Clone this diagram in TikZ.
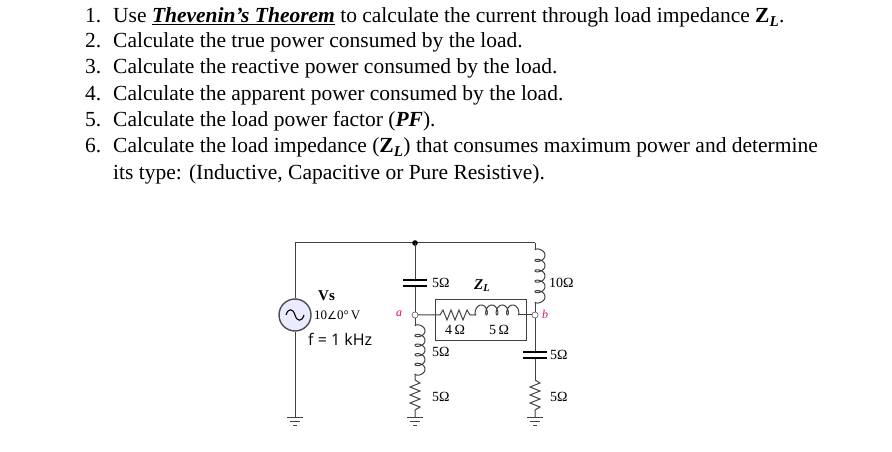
\documentclass[tikz,border=0pt]{standalone}
\usepackage{fontspec}
\setmainfont{Liberation Serif}
\newfontfamily\fsans{Open Sans}
\newfontfamily\fdv{DejaVu Sans}
\newcommand{\vind}[4]{% x, y1, y2, loops
 \draw[wire] plot[domain=0:#4,samples=150,smooth] ({#1+5*(1-cos(\x*360))},{#2+(#3-#2)*\x/#4-3.2*sin(\x*360)});}
\newcommand{\hind}[4]{% y, x1, x2, loops
 \draw[wire] plot[domain=0:#4,samples=150,smooth] ({#2+(#3-#2)*\x/#4-3*sin(\x*360)},{#1-5*(1-cos(\x*360))});}
\newcommand{\gnd}[2]{\draw[wire] (#1-8,#2)--(#1+8,#2) (#1-5,#2+4)--(#1+5,#2+4) (#1-2,#2+8)--(#1+2,#2+8);}
\begin{document}
\begin{tikzpicture}[x=1bp,y=-1bp,
 wire/.style={draw=black!75,line width=1bp},
 txt/.style={anchor=base west,inner sep=0,font=\fontsize{21.5bp}{24bp}\selectfont},
 lab/.style={anchor=west,inner sep=0,font=\fontsize{14bp}{14bp}\selectfont},
 pin/.style={circle,draw=black!75,fill=white,inner sep=0,minimum size=6bp}]
\useasboundingbox (0,0) rectangle (892,452);
% text
\foreach \n/\y in {1/23,2/48,3/74,4/101,5/127,6/153}{\node[txt] (n\n) at (85,\y) {\n.};}
\node[txt] (t1) at (113,23) {Use \textbf{\textit{\underline{Thevenin’s Theorem}}} to calculate the current through load impedance \textbf{Z\textsubscript{\textit{L}}}.};
\node[txt] (t2) at (113,48) {Calculate the true power consumed by the load.};
\node[txt] (t3) at (113,74) {Calculate the reactive power consumed by the load.};
\node[txt] (t4) at (113,101) {Calculate the apparent power consumed by the load.};
\node[txt] (t5) at (113,127) {Calculate the load power factor (\textbf{\textit{PF}}).};
\node[txt] (t6) at (113,153) {Calculate the load impedance (\textbf{Z\textsubscript{\textit{L}}}) that consumes maximum power and determine};
\node[txt] (t7) at (113,180) {its type: (Inductive, Capacitive or Pure Resistive).};
% circuit wires
\coordinate (tl) at (295,243); \coordinate (tm) at (415,243); \coordinate (tr) at (535,243);
\draw[wire] (tl)--(tr);
\fill (tm) circle (2.8);
\node[circle,draw=black!70,fill=blue!8,line width=1.4bp,minimum size=32bp,inner sep=0] (src) at (295,315) {};
\draw[line width=1.1bp] (286,315) .. controls (288,308) and (293,308) .. (295,315) .. controls (297,322) and (302,322) .. (304,315);
\draw[wire] (tl)--(src.north) (src.south)--(295,417);
\gnd{295}{417}
% middle branch
\draw[wire] (tm)--(415,280) (415,286)--(415,315);
\draw[line width=2.2bp] (403,280)--(427,280) (403,286)--(427,286);
\draw[wire] (415,315)--(415,326);
\vind{415}{326}{374}{5}
\draw[wire] (415,374)--(415,380) plot coordinates {(415,380)(420,383)(410,387)(420,391)(410,395)(420,399)(410,403)(420,407)(415,410)} (415,410)--(415,417);
\gnd{415}{417}
% right branch
\draw[wire] (tr)--(535,250);
\vind{535}{250}{302}{5}
\draw[wire] (535,302)--(535,352) (535,358)--(535,380);
\draw[line width=2.2bp] (523,352)--(547,352) (523,358)--(547,358);
\draw[wire] plot coordinates {(535,380)(540,383)(530,387)(540,391)(530,395)(540,399)(530,403)(540,407)(535,410)} (535,410)--(535,417);
\gnd{535}{417}
% load
\node[pin] (a) at (415,315) {};
\node[pin] (b) at (535,315) {};
\draw[black!75,line width=0.9bp] (435,299) rectangle (526,340);
\draw[wire] (a)--(440,315) plot coordinates {(440,315)(443,310)(447,320)(451,310)(455,320)(459,310)(463,320)(467,310)(470,315)} (470,315)--(476,315);
\hind{315}{476}{518}{4}
\draw[wire] (518,315)--(b);
\node[pin] at (415,315) {};\node[pin] at (535,315) {};
% labels
\node[lab] (l1) at (432,283) {5Ω};
\node[lab,font=\fontsize{15bp}{15bp}\selectfont\bfseries\itshape] (zl) at (474,286) {Z\textsubscript{L}};
\node[lab] (l2) at (549,283) {10Ω};
\node[lab,font=\fontsize{15bp}{15bp}\selectfont\bfseries] (vs) at (318,296) {Vs};
\node[lab,font=\fontsize{13bp}{14bp}\selectfont] (v) at (314,315) {10{\fdv\fontsize{11bp}{12bp}\selectfont∠}0°\,V};
\node[lab,font=\fontsize{16bp}{16bp}\selectfont\fsans] (f) at (308,339) {f = 1 kHz};
\node[lab,font=\fontsize{12bp}{12bp}\selectfont\itshape,text=magenta!80!red] (la) at (396,314) {a};
\node[lab,font=\fontsize{12bp}{12bp}\selectfont\itshape,text=magenta!80!red] (lb) at (542,314) {b};
\node[lab] (l3) at (445,330) {4\,Ω};
\node[lab] (l4) at (489,330) {5\,Ω};
\node[lab] (l5) at (432,352) {5Ω};
\node[lab] (l6) at (550,355) {5Ω};
\node[lab] (l7) at (432,397) {5Ω};
\node[lab] (l8) at (550,397) {5Ω};
\end{tikzpicture}
\end{document}
